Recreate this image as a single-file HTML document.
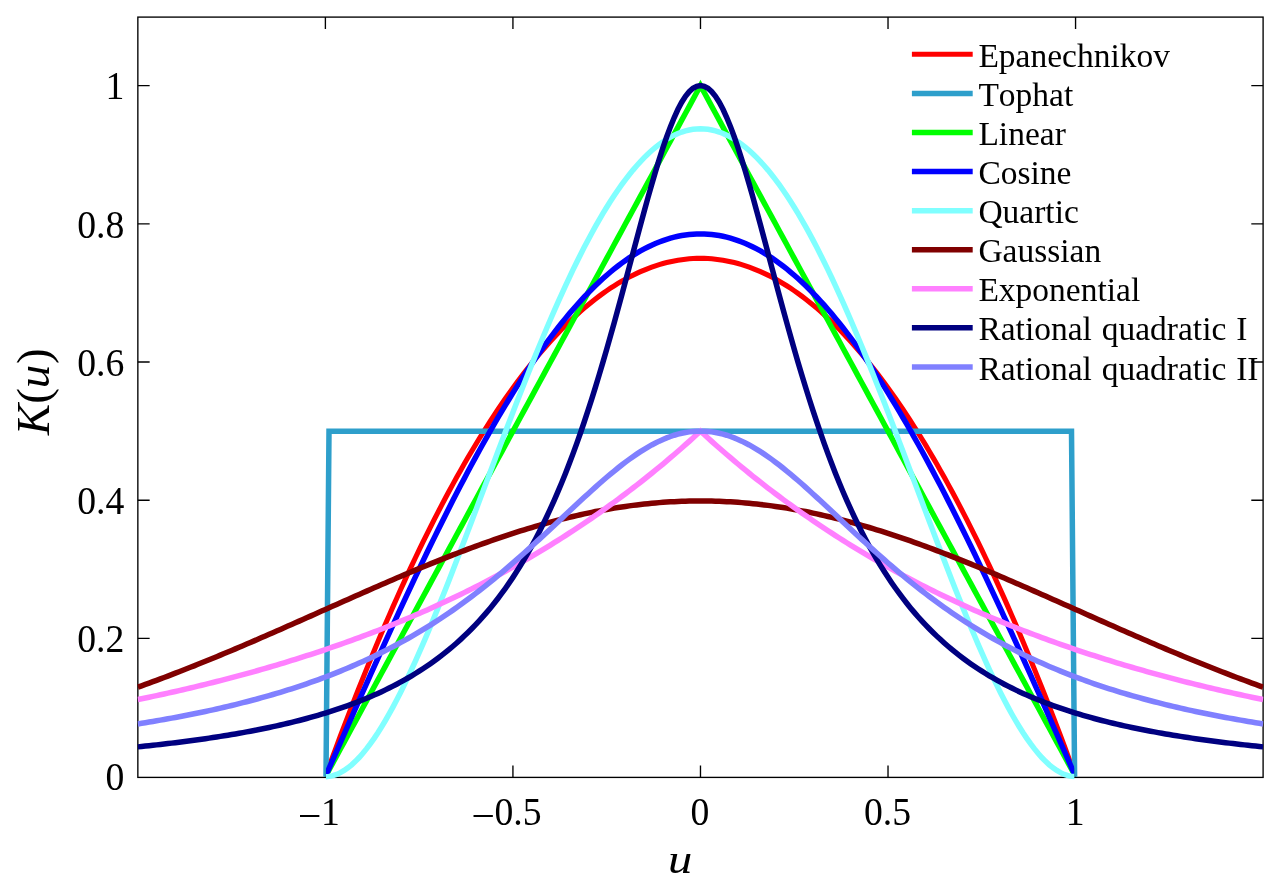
<!DOCTYPE html><html><head><meta charset="utf-8"><title>Kernel functions</title>
<style>html,body{margin:0;padding:0;background:#fff}svg{display:block}text{font-kerning:none;font-family:"Liberation Serif","Times New Roman",serif;fill:#000}</style></head><body>
<svg width="1280" height="889" viewBox="0 0 1280 889">
<rect width="1280" height="889" fill="#fff"/>
<g stroke="#000" stroke-width="1.35" fill="none">
<rect x="137.85" y="17.1" width="1125.25" height="760.3"/>
<path d="M325.39 777.4 V765.6 M325.39 17.1 V28.900000000000002 M512.93 777.4 V765.6 M512.93 17.1 V28.900000000000002 M700.48 777.4 V765.6 M700.48 17.1 V28.900000000000002 M888.02 777.4 V765.6 M888.02 17.1 V28.900000000000002 M1075.56 777.4 V765.6 M1075.56 17.1 V28.900000000000002 M137.85 638.44 H149.65 M1263.1 638.44 H1251.3 M137.85 500.23 H149.65 M1263.1 500.23 H1251.3 M137.85 362.02 H149.65 M1263.1 362.02 H1251.3 M137.85 223.81 H149.65 M1263.1 223.81 H1251.3 M137.85 85.60 H149.65 M1263.1 85.60 H1251.3 "/>
</g>
<clipPath id="c"><rect x="137.45" y="17.1" width="1126.05" height="764.3"/></clipPath>
<clipPath id="k"><rect x="325.9" y="0" width="748.4" height="800"/></clipPath>
<g clip-path="url(#c)" fill="none" stroke-linejoin="miter" stroke-linecap="butt" stroke-width="5.5">
<path d="M325.39 776.65 L329.14 766.34 L332.89 756.13 L336.64 746.02 L340.39 736.02 L344.15 726.12 L347.90 716.32 L351.65 706.63 L355.40 697.04 L359.15 687.56 L362.90 678.18 L366.65 668.90 L370.40 659.73 L374.15 650.66 L377.90 641.69 L381.65 632.83 L385.40 624.07 L389.16 615.41 L392.91 606.86 L396.66 598.41 L400.41 590.07 L404.16 581.83 L407.91 573.69 L411.66 565.66 L415.41 557.73 L419.16 549.90 L422.91 542.18 L426.66 534.56 L430.41 527.04 L434.17 519.63 L437.92 512.33 L441.67 505.12 L445.42 498.02 L449.17 491.02 L452.92 484.13 L456.67 477.34 L460.42 470.66 L464.17 464.07 L467.92 457.59 L471.67 451.22 L475.42 444.95 L479.18 438.78 L482.93 432.72 L486.68 426.76 L490.43 420.90 L494.18 415.15 L497.93 409.50 L501.68 403.95 L505.43 398.51 L509.18 393.17 L512.93 387.94 L516.68 382.81 L520.44 377.78 L524.19 372.85 L527.94 368.03 L531.69 363.32 L535.44 358.71 L539.19 354.20 L542.94 349.79 L546.69 345.49 L550.44 341.29 L554.19 337.20 L557.94 333.21 L561.69 329.32 L565.45 325.54 L569.20 321.86 L572.95 318.28 L576.70 314.81 L580.45 311.44 L584.20 308.17 L587.95 305.01 L591.70 301.95 L595.45 299.00 L599.20 296.15 L602.95 293.40 L606.70 290.76 L610.45 288.22 L614.21 285.78 L617.96 283.45 L621.71 281.22 L625.46 279.10 L629.21 277.08 L632.96 275.16 L636.71 273.34 L640.46 271.63 L644.21 270.03 L647.96 268.52 L651.71 267.12 L655.47 265.83 L659.22 264.64 L662.97 263.55 L666.72 262.56 L670.47 261.68 L674.22 260.91 L677.97 260.23 L681.72 259.66 L685.47 259.20 L689.22 258.83 L692.97 258.57 L696.72 258.42 L700.48 258.37 L704.23 258.42 L707.98 258.57 L711.73 258.83 L715.48 259.20 L719.23 259.66 L722.98 260.23 L726.73 260.91 L730.48 261.68 L734.23 262.56 L737.98 263.55 L741.73 264.64 L745.49 265.83 L749.24 267.12 L752.99 268.52 L756.74 270.03 L760.49 271.63 L764.24 273.34 L767.99 275.16 L771.74 277.08 L775.49 279.10 L779.24 281.22 L782.99 283.45 L786.74 285.78 L790.50 288.22 L794.25 290.76 L798.00 293.40 L801.75 296.15 L805.50 299.00 L809.25 301.95 L813.00 305.01 L816.75 308.17 L820.50 311.44 L824.25 314.81 L828.00 318.28 L831.75 321.86 L835.50 325.54 L839.26 329.32 L843.01 333.21 L846.76 337.20 L850.51 341.29 L854.26 345.49 L858.01 349.79 L861.76 354.20 L865.51 358.71 L869.26 363.32 L873.01 368.03 L876.76 372.85 L880.52 377.78 L884.27 382.81 L888.02 387.94 L891.77 393.17 L895.52 398.51 L899.27 403.95 L903.02 409.50 L906.77 415.15 L910.52 420.90 L914.27 426.76 L918.02 432.72 L921.77 438.78 L925.53 444.95 L929.28 451.22 L933.03 457.59 L936.78 464.07 L940.53 470.66 L944.28 477.34 L948.03 484.13 L951.78 491.02 L955.53 498.02 L959.28 505.12 L963.03 512.33 L966.78 519.63 L970.54 527.04 L974.29 534.56 L978.04 542.18 L981.79 549.90 L985.54 557.73 L989.29 565.66 L993.04 573.69 L996.79 581.83 L1000.54 590.07 L1004.29 598.41 L1008.04 606.86 L1011.79 615.41 L1015.54 624.07 L1019.30 632.83 L1023.05 641.69 L1026.80 650.66 L1030.55 659.73 L1034.30 668.90 L1038.05 678.18 L1041.80 687.56 L1045.55 697.04 L1049.30 706.63 L1053.05 716.32 L1056.80 726.12 L1060.55 736.02 L1064.31 746.02 L1068.06 756.13 L1071.81 766.34 L1075.56 776.65" stroke="#ff0000" clip-path="url(#k)" stroke-width="5.1"/>
<path d="M326 776.65 L329 431.13 L1071.5 431.13 L1074.6 776.65" stroke="#2e9fcb"/>
<path d="M325.39 776.65 L329.14 769.74 L332.89 762.83 L336.64 755.92 L340.39 749.01 L344.15 742.10 L347.90 735.19 L351.65 728.28 L355.40 721.37 L359.15 714.46 L362.90 707.55 L366.65 700.63 L370.40 693.72 L374.15 686.81 L377.90 679.90 L381.65 672.99 L385.40 666.08 L389.16 659.17 L392.91 652.26 L396.66 645.35 L400.41 638.44 L404.16 631.53 L407.91 624.62 L411.66 617.71 L415.41 610.80 L419.16 603.89 L422.91 596.98 L426.66 590.07 L430.41 583.16 L434.17 576.25 L437.92 569.34 L441.67 562.43 L445.42 555.52 L449.17 548.61 L452.92 541.69 L456.67 534.78 L460.42 527.87 L464.17 520.96 L467.92 514.05 L471.67 507.14 L475.42 500.23 L479.18 493.32 L482.93 486.41 L486.68 479.50 L490.43 472.59 L494.18 465.68 L497.93 458.77 L501.68 451.86 L505.43 444.95 L509.18 438.04 L512.93 431.13 L516.68 424.22 L520.44 417.31 L524.19 410.40 L527.94 403.49 L531.69 396.57 L535.44 389.66 L539.19 382.75 L542.94 375.84 L546.69 368.93 L550.44 362.02 L554.19 355.11 L557.94 348.20 L561.69 341.29 L565.45 334.38 L569.20 327.47 L572.95 320.56 L576.70 313.65 L580.45 306.74 L584.20 299.83 L587.95 292.92 L591.70 286.01 L595.45 279.10 L599.20 272.19 L602.95 265.28 L606.70 258.37 L610.45 251.46 L614.21 244.55 L617.96 237.63 L621.71 230.72 L625.46 223.81 L629.21 216.90 L632.96 209.99 L636.71 203.08 L640.46 196.17 L644.21 189.26 L647.96 182.35 L651.71 175.44 L655.47 168.53 L659.22 161.62 L662.97 154.71 L666.72 147.80 L670.47 140.89 L674.22 133.98 L677.97 127.07 L681.72 120.16 L685.47 113.25 L689.22 106.34 L692.97 99.43 L696.72 92.52 L700.48 85.60 L704.23 92.52 L707.98 99.43 L711.73 106.34 L715.48 113.25 L719.23 120.16 L722.98 127.07 L726.73 133.98 L730.48 140.89 L734.23 147.80 L737.98 154.71 L741.73 161.62 L745.49 168.53 L749.24 175.44 L752.99 182.35 L756.74 189.26 L760.49 196.17 L764.24 203.08 L767.99 209.99 L771.74 216.90 L775.49 223.81 L779.24 230.72 L782.99 237.63 L786.74 244.55 L790.50 251.46 L794.25 258.37 L798.00 265.28 L801.75 272.19 L805.50 279.10 L809.25 286.01 L813.00 292.92 L816.75 299.83 L820.50 306.74 L824.25 313.65 L828.00 320.56 L831.75 327.47 L835.50 334.38 L839.26 341.29 L843.01 348.20 L846.76 355.11 L850.51 362.02 L854.26 368.93 L858.01 375.84 L861.76 382.75 L865.51 389.66 L869.26 396.57 L873.01 403.49 L876.76 410.40 L880.52 417.31 L884.27 424.22 L888.02 431.13 L891.77 438.04 L895.52 444.95 L899.27 451.86 L903.02 458.77 L906.77 465.68 L910.52 472.59 L914.27 479.50 L918.02 486.41 L921.77 493.32 L925.53 500.23 L929.28 507.14 L933.03 514.05 L936.78 520.96 L940.53 527.87 L944.28 534.78 L948.03 541.69 L951.78 548.61 L955.53 555.52 L959.28 562.43 L963.03 569.34 L966.78 576.25 L970.54 583.16 L974.29 590.07 L978.04 596.98 L981.79 603.89 L985.54 610.80 L989.29 617.71 L993.04 624.62 L996.79 631.53 L1000.54 638.44 L1004.29 645.35 L1008.04 652.26 L1011.79 659.17 L1015.54 666.08 L1019.30 672.99 L1023.05 679.90 L1026.80 686.81 L1030.55 693.72 L1034.30 700.64 L1038.05 707.55 L1041.80 714.46 L1045.55 721.37 L1049.30 728.28 L1053.05 735.19 L1056.80 742.10 L1060.55 749.01 L1064.31 755.92 L1068.06 762.83 L1071.81 769.74 L1075.56 776.65" stroke="#00ff00" clip-path="url(#k)"/>
<path d="M325.39 776.65 L329.14 768.12 L332.89 759.60 L336.64 751.08 L340.39 742.57 L344.15 734.07 L347.90 725.57 L351.65 717.09 L355.40 708.63 L359.15 700.18 L362.90 691.75 L366.65 683.34 L370.40 674.95 L374.15 666.59 L377.90 658.25 L381.65 649.95 L385.40 641.67 L389.16 633.43 L392.91 625.23 L396.66 617.06 L400.41 608.93 L404.16 600.85 L407.91 592.80 L411.66 584.80 L415.41 576.85 L419.16 568.95 L422.91 561.10 L426.66 553.30 L430.41 545.56 L434.17 537.87 L437.92 530.25 L441.67 522.68 L445.42 515.18 L449.17 507.74 L452.92 500.37 L456.67 493.07 L460.42 485.83 L464.17 478.67 L467.92 471.58 L471.67 464.57 L475.42 457.63 L479.18 450.77 L482.93 444.00 L486.68 437.30 L490.43 430.69 L494.18 424.16 L497.93 417.73 L501.68 411.38 L505.43 405.11 L509.18 398.95 L512.93 392.87 L516.68 386.89 L520.44 381.01 L524.19 375.22 L527.94 369.53 L531.69 363.94 L535.44 358.46 L539.19 353.07 L542.94 347.80 L546.69 342.62 L550.44 337.56 L554.19 332.60 L557.94 327.76 L561.69 323.02 L565.45 318.39 L569.20 313.88 L572.95 309.49 L576.70 305.20 L580.45 301.04 L584.20 296.99 L587.95 293.06 L591.70 289.25 L595.45 285.56 L599.20 281.99 L602.95 278.54 L606.70 275.22 L610.45 272.02 L614.21 268.94 L617.96 265.99 L621.71 263.17 L625.46 260.47 L629.21 257.90 L632.96 255.45 L636.71 253.14 L640.46 250.96 L644.21 248.90 L647.96 246.98 L651.71 245.18 L655.47 243.52 L659.22 241.99 L662.97 240.59 L666.72 239.32 L670.47 238.18 L674.22 237.18 L677.97 236.31 L681.72 235.58 L685.47 234.98 L689.22 234.51 L692.97 234.17 L696.72 233.97 L700.48 233.90 L704.23 233.97 L707.98 234.17 L711.73 234.51 L715.48 234.98 L719.23 235.58 L722.98 236.31 L726.73 237.18 L730.48 238.18 L734.23 239.32 L737.98 240.59 L741.73 241.99 L745.49 243.52 L749.24 245.18 L752.99 246.98 L756.74 248.90 L760.49 250.96 L764.24 253.14 L767.99 255.45 L771.74 257.90 L775.49 260.47 L779.24 263.17 L782.99 265.99 L786.74 268.94 L790.50 272.02 L794.25 275.22 L798.00 278.54 L801.75 281.99 L805.50 285.56 L809.25 289.25 L813.00 293.06 L816.75 296.99 L820.50 301.04 L824.25 305.20 L828.00 309.49 L831.75 313.88 L835.50 318.39 L839.26 323.02 L843.01 327.76 L846.76 332.60 L850.51 337.56 L854.26 342.62 L858.01 347.80 L861.76 353.07 L865.51 358.46 L869.26 363.94 L873.01 369.53 L876.76 375.22 L880.52 381.01 L884.27 386.89 L888.02 392.87 L891.77 398.95 L895.52 405.11 L899.27 411.38 L903.02 417.73 L906.77 424.16 L910.52 430.69 L914.27 437.30 L918.02 444.00 L921.77 450.77 L925.53 457.63 L929.28 464.57 L933.03 471.58 L936.78 478.67 L940.53 485.83 L944.28 493.07 L948.03 500.37 L951.78 507.74 L955.53 515.18 L959.28 522.68 L963.03 530.25 L966.78 537.87 L970.54 545.56 L974.29 553.30 L978.04 561.10 L981.79 568.95 L985.54 576.85 L989.29 584.80 L993.04 592.80 L996.79 600.85 L1000.54 608.93 L1004.29 617.06 L1008.04 625.23 L1011.79 633.43 L1015.54 641.67 L1019.30 649.95 L1023.05 658.25 L1026.80 666.59 L1030.55 674.95 L1034.30 683.34 L1038.05 691.75 L1041.80 700.18 L1045.55 708.63 L1049.30 717.09 L1053.05 725.57 L1056.80 734.07 L1060.55 742.57 L1064.31 751.08 L1068.06 759.60 L1071.81 768.12 L1075.56 776.65" stroke="#0000ff" clip-path="url(#k)"/>
<path d="M325.39 776.65 L329.14 776.39 L332.89 775.63 L336.64 774.39 L340.39 772.67 L344.15 770.49 L347.90 767.87 L351.65 764.83 L355.40 761.37 L359.15 757.51 L362.90 753.26 L366.65 748.65 L370.40 743.68 L374.15 738.36 L377.90 732.72 L381.65 726.76 L385.40 720.50 L389.16 713.95 L392.91 707.12 L396.66 700.03 L400.41 692.69 L404.16 685.11 L407.91 677.30 L411.66 669.28 L415.41 661.06 L419.16 652.65 L422.91 644.06 L426.66 635.30 L430.41 626.39 L434.17 617.33 L437.92 608.14 L441.67 598.83 L445.42 589.41 L449.17 579.89 L452.92 570.28 L456.67 560.59 L460.42 550.83 L464.17 541.01 L467.92 531.14 L471.67 521.23 L475.42 511.29 L479.18 501.33 L482.93 491.36 L486.68 481.38 L490.43 471.42 L494.18 461.46 L497.93 451.54 L501.68 441.64 L505.43 431.79 L509.18 421.98 L512.93 412.23 L516.68 402.55 L520.44 392.94 L524.19 383.40 L527.94 373.96 L531.69 364.61 L535.44 355.36 L539.19 346.22 L542.94 337.20 L546.69 328.30 L550.44 319.52 L554.19 310.88 L557.94 302.39 L561.69 294.04 L565.45 285.84 L569.20 277.80 L572.95 269.92 L576.70 262.21 L580.45 254.68 L584.20 247.33 L587.95 240.16 L591.70 233.18 L595.45 226.40 L599.20 219.81 L602.95 213.42 L606.70 207.25 L610.45 201.28 L614.21 195.52 L617.96 189.99 L621.71 184.68 L625.46 179.59 L629.21 174.73 L632.96 170.10 L636.71 165.70 L640.46 161.54 L644.21 157.62 L647.96 153.94 L651.71 150.51 L655.47 147.32 L659.22 144.38 L662.97 141.69 L666.72 139.25 L670.47 137.06 L674.22 135.13 L677.97 133.45 L681.72 132.03 L685.47 130.87 L689.22 129.96 L692.97 129.31 L696.72 128.92 L700.48 128.79 L704.23 128.92 L707.98 129.31 L711.73 129.96 L715.48 130.87 L719.23 132.03 L722.98 133.45 L726.73 135.13 L730.48 137.06 L734.23 139.25 L737.98 141.69 L741.73 144.38 L745.49 147.32 L749.24 150.51 L752.99 153.94 L756.74 157.62 L760.49 161.54 L764.24 165.70 L767.99 170.10 L771.74 174.73 L775.49 179.59 L779.24 184.68 L782.99 189.99 L786.74 195.52 L790.50 201.28 L794.25 207.25 L798.00 213.42 L801.75 219.81 L805.50 226.40 L809.25 233.18 L813.00 240.16 L816.75 247.33 L820.50 254.68 L824.25 262.21 L828.00 269.92 L831.75 277.80 L835.50 285.84 L839.26 294.04 L843.01 302.39 L846.76 310.88 L850.51 319.52 L854.26 328.30 L858.01 337.20 L861.76 346.22 L865.51 355.36 L869.26 364.61 L873.01 373.96 L876.76 383.40 L880.52 392.94 L884.27 402.55 L888.02 412.23 L891.77 421.98 L895.52 431.79 L899.27 441.64 L903.02 451.54 L906.77 461.46 L910.52 471.42 L914.27 481.38 L918.02 491.36 L921.77 501.33 L925.53 511.29 L929.28 521.23 L933.03 531.14 L936.78 541.01 L940.53 550.83 L944.28 560.59 L948.03 570.28 L951.78 579.89 L955.53 589.41 L959.28 598.83 L963.03 608.14 L966.78 617.33 L970.54 626.39 L974.29 635.30 L978.04 644.06 L981.79 652.65 L985.54 661.06 L989.29 669.28 L993.04 677.30 L996.79 685.11 L1000.54 692.69 L1004.29 700.03 L1008.04 707.12 L1011.79 713.95 L1015.54 720.50 L1019.30 726.76 L1023.05 732.72 L1026.80 738.36 L1030.55 743.68 L1034.30 748.65 L1038.05 753.26 L1041.80 757.51 L1045.55 761.37 L1049.30 764.83 L1053.05 767.87 L1056.80 770.49 L1060.55 772.67 L1064.31 774.39 L1068.06 775.63 L1071.81 776.39 L1075.56 776.65" stroke="#80ffff" clip-path="url(#k)"/>
<path d="M137.85 687.15 L141.60 685.80 L145.35 684.44 L149.10 683.07 L152.85 681.69 L156.60 680.30 L160.36 678.89 L164.11 677.48 L167.86 676.06 L171.61 674.63 L175.36 673.18 L179.11 671.73 L182.86 670.26 L186.61 668.79 L190.36 667.31 L194.11 665.82 L197.86 664.32 L201.61 662.81 L205.36 661.29 L209.12 659.76 L212.87 658.23 L216.62 656.68 L220.37 655.13 L224.12 653.57 L227.87 652.01 L231.62 650.43 L235.37 648.85 L239.12 647.26 L242.87 645.67 L246.62 644.07 L250.38 642.46 L254.13 640.85 L257.88 639.23 L261.63 637.60 L265.38 635.97 L269.13 634.34 L272.88 632.70 L276.63 631.06 L280.38 629.41 L284.13 627.76 L287.88 626.10 L291.63 624.45 L295.38 622.79 L299.14 621.12 L302.89 619.46 L306.64 617.79 L310.39 616.12 L314.14 614.45 L317.89 612.78 L321.64 611.11 L325.39 609.44 L329.14 607.77 L332.89 606.09 L336.64 604.42 L340.39 602.75 L344.15 601.08 L347.90 599.42 L351.65 597.75 L355.40 596.09 L359.15 594.43 L362.90 592.77 L366.65 591.12 L370.40 589.47 L374.15 587.83 L377.90 586.19 L381.65 584.55 L385.40 582.92 L389.16 581.30 L392.91 579.68 L396.66 578.07 L400.41 576.46 L404.16 574.86 L407.91 573.27 L411.66 571.69 L415.41 570.12 L419.16 568.55 L422.91 566.99 L426.66 565.45 L430.41 563.91 L434.17 562.38 L437.92 560.87 L441.67 559.36 L445.42 557.87 L449.17 556.39 L452.92 554.92 L456.67 553.46 L460.42 552.02 L464.17 550.59 L467.92 549.17 L471.67 547.77 L475.42 546.38 L479.18 545.00 L482.93 543.64 L486.68 542.30 L490.43 540.97 L494.18 539.66 L497.93 538.37 L501.68 537.09 L505.43 535.83 L509.18 534.58 L512.93 533.36 L516.68 532.15 L520.44 530.96 L524.19 529.79 L527.94 528.64 L531.69 527.51 L535.44 526.40 L539.19 525.31 L542.94 524.24 L546.69 523.19 L550.44 522.16 L554.19 521.15 L557.94 520.17 L561.69 519.20 L565.45 518.26 L569.20 517.34 L572.95 516.45 L576.70 515.57 L580.45 514.72 L584.20 513.90 L587.95 513.09 L591.70 512.32 L595.45 511.56 L599.20 510.83 L602.95 510.13 L606.70 509.44 L610.45 508.79 L614.21 508.16 L617.96 507.55 L621.71 506.98 L625.46 506.42 L629.21 505.89 L632.96 505.39 L636.71 504.92 L640.46 504.47 L644.21 504.05 L647.96 503.65 L651.71 503.28 L655.47 502.94 L659.22 502.63 L662.97 502.34 L666.72 502.08 L670.47 501.84 L674.22 501.64 L677.97 501.46 L681.72 501.31 L685.47 501.18 L689.22 501.09 L692.97 501.02 L696.72 500.98 L700.48 500.96 L704.23 500.98 L707.98 501.02 L711.73 501.09 L715.48 501.18 L719.23 501.31 L722.98 501.46 L726.73 501.64 L730.48 501.84 L734.23 502.08 L737.98 502.34 L741.73 502.63 L745.49 502.94 L749.24 503.28 L752.99 503.65 L756.74 504.05 L760.49 504.47 L764.24 504.92 L767.99 505.39 L771.74 505.89 L775.49 506.42 L779.24 506.98 L782.99 507.55 L786.74 508.16 L790.50 508.79 L794.25 509.44 L798.00 510.13 L801.75 510.83 L805.50 511.56 L809.25 512.32 L813.00 513.09 L816.75 513.90 L820.50 514.72 L824.25 515.57 L828.00 516.45 L831.75 517.34 L835.50 518.26 L839.26 519.20 L843.01 520.17 L846.76 521.15 L850.51 522.16 L854.26 523.19 L858.01 524.24 L861.76 525.31 L865.51 526.40 L869.26 527.51 L873.01 528.64 L876.76 529.79 L880.52 530.96 L884.27 532.15 L888.02 533.36 L891.77 534.58 L895.52 535.83 L899.27 537.09 L903.02 538.37 L906.77 539.66 L910.52 540.97 L914.27 542.30 L918.02 543.64 L921.77 545.00 L925.53 546.38 L929.28 547.77 L933.03 549.17 L936.78 550.59 L940.53 552.02 L944.28 553.46 L948.03 554.92 L951.78 556.39 L955.53 557.87 L959.28 559.36 L963.03 560.87 L966.78 562.38 L970.54 563.91 L974.29 565.45 L978.04 566.99 L981.79 568.55 L985.54 570.12 L989.29 571.69 L993.04 573.27 L996.79 574.86 L1000.54 576.46 L1004.29 578.07 L1008.04 579.68 L1011.79 581.30 L1015.54 582.92 L1019.30 584.55 L1023.05 586.19 L1026.80 587.83 L1030.55 589.47 L1034.30 591.12 L1038.05 592.77 L1041.80 594.43 L1045.55 596.09 L1049.30 597.75 L1053.05 599.42 L1056.80 601.08 L1060.55 602.75 L1064.31 604.42 L1068.06 606.09 L1071.81 607.77 L1075.56 609.44 L1079.31 611.11 L1083.06 612.78 L1086.81 614.45 L1090.56 616.12 L1094.31 617.79 L1098.06 619.46 L1101.81 621.12 L1105.57 622.79 L1109.32 624.45 L1113.07 626.10 L1116.82 627.76 L1120.57 629.41 L1124.32 631.06 L1128.07 632.70 L1131.82 634.34 L1135.57 635.97 L1139.32 637.60 L1143.07 639.23 L1146.82 640.85 L1150.58 642.46 L1154.33 644.07 L1158.08 645.67 L1161.83 647.26 L1165.58 648.85 L1169.33 650.43 L1173.08 652.01 L1176.83 653.57 L1180.58 655.13 L1184.33 656.68 L1188.08 658.23 L1191.83 659.76 L1195.58 661.29 L1199.34 662.81 L1203.09 664.32 L1206.84 665.82 L1210.59 667.31 L1214.34 668.79 L1218.09 670.26 L1221.84 671.73 L1225.59 673.18 L1229.34 674.63 L1233.09 676.06 L1236.84 677.48 L1240.59 678.89 L1244.35 680.30 L1248.10 681.69 L1251.85 683.07 L1255.60 684.44 L1259.35 685.80 L1263.10 687.15" stroke="#800000"/>
<path d="M137.85 699.55 L141.60 698.78 L145.35 698.00 L149.10 697.21 L152.85 696.41 L156.60 695.60 L160.36 694.79 L164.11 693.96 L167.86 693.13 L171.61 692.29 L175.36 691.45 L179.11 690.59 L182.86 689.72 L186.61 688.85 L190.36 687.97 L194.11 687.08 L197.86 686.18 L201.61 685.27 L205.36 684.35 L209.12 683.42 L212.87 682.48 L216.62 681.54 L220.37 680.58 L224.12 679.62 L227.87 678.64 L231.62 677.66 L235.37 676.66 L239.12 675.66 L242.87 674.64 L246.62 673.62 L250.38 672.58 L254.13 671.53 L257.88 670.48 L261.63 669.41 L265.38 668.33 L269.13 667.24 L272.88 666.15 L276.63 665.03 L280.38 663.91 L284.13 662.78 L287.88 661.64 L291.63 660.48 L295.38 659.31 L299.14 658.13 L302.89 656.94 L306.64 655.74 L310.39 654.52 L314.14 653.30 L317.89 652.06 L321.64 650.80 L325.39 649.54 L329.14 648.26 L332.89 646.97 L336.64 645.67 L340.39 644.35 L344.15 643.02 L347.90 641.68 L351.65 640.32 L355.40 638.95 L359.15 637.57 L362.90 636.17 L366.65 634.76 L370.40 633.33 L374.15 631.89 L377.90 630.44 L381.65 628.97 L385.40 627.48 L389.16 625.99 L392.91 624.47 L396.66 622.94 L400.41 621.40 L404.16 619.84 L407.91 618.26 L411.66 616.67 L415.41 615.06 L419.16 613.44 L422.91 611.80 L426.66 610.14 L430.41 608.47 L434.17 606.78 L437.92 605.07 L441.67 603.34 L445.42 601.60 L449.17 599.84 L452.92 598.07 L456.67 596.27 L460.42 594.46 L464.17 592.63 L467.92 590.78 L471.67 588.91 L475.42 587.02 L479.18 585.12 L482.93 583.19 L486.68 581.25 L490.43 579.28 L494.18 577.30 L497.93 575.30 L501.68 573.27 L505.43 571.23 L509.18 569.17 L512.93 567.08 L516.68 564.97 L520.44 562.85 L524.19 560.70 L527.94 558.53 L531.69 556.33 L535.44 554.12 L539.19 551.88 L542.94 549.63 L546.69 547.34 L550.44 545.04 L554.19 542.71 L557.94 540.36 L561.69 537.99 L565.45 535.59 L569.20 533.16 L572.95 530.72 L576.70 528.25 L580.45 525.75 L584.20 523.23 L587.95 520.68 L591.70 518.11 L595.45 515.51 L599.20 512.89 L602.95 510.23 L606.70 507.56 L610.45 504.85 L614.21 502.12 L617.96 499.36 L621.71 496.57 L625.46 493.76 L629.21 490.92 L632.96 488.05 L636.71 485.14 L640.46 482.21 L644.21 479.26 L647.96 476.27 L651.71 473.25 L655.47 470.20 L659.22 467.12 L662.97 464.01 L666.72 460.87 L670.47 457.69 L674.22 454.49 L677.97 451.25 L681.72 447.98 L685.47 444.68 L689.22 441.34 L692.97 437.97 L696.72 434.57 L700.48 431.13 L704.23 434.57 L707.98 437.97 L711.73 441.34 L715.48 444.68 L719.23 447.98 L722.98 451.25 L726.73 454.49 L730.48 457.69 L734.23 460.87 L737.98 464.01 L741.73 467.12 L745.49 470.20 L749.24 473.25 L752.99 476.27 L756.74 479.26 L760.49 482.21 L764.24 485.14 L767.99 488.05 L771.74 490.92 L775.49 493.76 L779.24 496.57 L782.99 499.36 L786.74 502.12 L790.50 504.85 L794.25 507.56 L798.00 510.23 L801.75 512.89 L805.50 515.51 L809.25 518.11 L813.00 520.68 L816.75 523.23 L820.50 525.75 L824.25 528.25 L828.00 530.72 L831.75 533.16 L835.50 535.59 L839.26 537.99 L843.01 540.36 L846.76 542.71 L850.51 545.04 L854.26 547.34 L858.01 549.63 L861.76 551.88 L865.51 554.12 L869.26 556.33 L873.01 558.53 L876.76 560.70 L880.52 562.85 L884.27 564.97 L888.02 567.08 L891.77 569.17 L895.52 571.23 L899.27 573.27 L903.02 575.30 L906.77 577.30 L910.52 579.28 L914.27 581.25 L918.02 583.19 L921.77 585.12 L925.53 587.02 L929.28 588.91 L933.03 590.78 L936.78 592.63 L940.53 594.46 L944.28 596.27 L948.03 598.07 L951.78 599.84 L955.53 601.60 L959.28 603.34 L963.03 605.07 L966.78 606.78 L970.54 608.47 L974.29 610.14 L978.04 611.80 L981.79 613.44 L985.54 615.06 L989.29 616.67 L993.04 618.26 L996.79 619.84 L1000.54 621.40 L1004.29 622.94 L1008.04 624.47 L1011.79 625.99 L1015.54 627.48 L1019.30 628.97 L1023.05 630.44 L1026.80 631.89 L1030.55 633.33 L1034.30 634.76 L1038.05 636.17 L1041.80 637.57 L1045.55 638.95 L1049.30 640.32 L1053.05 641.68 L1056.80 643.02 L1060.55 644.35 L1064.31 645.67 L1068.06 646.97 L1071.81 648.26 L1075.56 649.54 L1079.31 650.80 L1083.06 652.06 L1086.81 653.30 L1090.56 654.52 L1094.31 655.74 L1098.06 656.94 L1101.81 658.13 L1105.57 659.31 L1109.32 660.48 L1113.07 661.64 L1116.82 662.78 L1120.57 663.91 L1124.32 665.03 L1128.07 666.15 L1131.82 667.24 L1135.57 668.33 L1139.32 669.41 L1143.07 670.48 L1146.82 671.53 L1150.58 672.58 L1154.33 673.62 L1158.08 674.64 L1161.83 675.66 L1165.58 676.66 L1169.33 677.66 L1173.08 678.64 L1176.83 679.62 L1180.58 680.58 L1184.33 681.54 L1188.08 682.48 L1191.83 683.42 L1195.58 684.35 L1199.34 685.27 L1203.09 686.18 L1206.84 687.08 L1210.59 687.97 L1214.34 688.85 L1218.09 689.72 L1221.84 690.59 L1225.59 691.45 L1229.34 692.29 L1233.09 693.13 L1236.84 693.96 L1240.59 694.79 L1244.35 695.60 L1248.10 696.41 L1251.85 697.21 L1255.60 698.00 L1259.35 698.78 L1263.10 699.55" stroke="#ff80ff"/>
<path d="M137.85 746.87 L141.60 746.49 L145.35 746.10 L149.10 745.70 L152.85 745.29 L156.60 744.88 L160.36 744.46 L164.11 744.03 L167.86 743.59 L171.61 743.14 L175.36 742.68 L179.11 742.22 L182.86 741.74 L186.61 741.26 L190.36 740.76 L194.11 740.25 L197.86 739.74 L201.61 739.21 L205.36 738.67 L209.12 738.12 L212.87 737.56 L216.62 736.99 L220.37 736.40 L224.12 735.80 L227.87 735.19 L231.62 734.57 L235.37 733.93 L239.12 733.27 L242.87 732.61 L246.62 731.92 L250.38 731.22 L254.13 730.51 L257.88 729.78 L261.63 729.03 L265.38 728.26 L269.13 727.47 L272.88 726.67 L276.63 725.85 L280.38 725.00 L284.13 724.14 L287.88 723.26 L291.63 722.35 L295.38 721.42 L299.14 720.47 L302.89 719.49 L306.64 718.49 L310.39 717.46 L314.14 716.41 L317.89 715.32 L321.64 714.21 L325.39 713.07 L329.14 711.90 L332.89 710.70 L336.64 709.47 L340.39 708.20 L344.15 706.90 L347.90 705.56 L351.65 704.18 L355.40 702.77 L359.15 701.32 L362.90 699.82 L366.65 698.28 L370.40 696.70 L374.15 695.07 L377.90 693.39 L381.65 691.66 L385.40 689.88 L389.16 688.05 L392.91 686.16 L396.66 684.21 L400.41 682.20 L404.16 680.13 L407.91 677.99 L411.66 675.79 L415.41 673.52 L419.16 671.17 L422.91 668.75 L426.66 666.25 L430.41 663.67 L434.17 661.00 L437.92 658.24 L441.67 655.39 L445.42 652.44 L449.17 649.40 L452.92 646.24 L456.67 642.98 L460.42 639.61 L464.17 636.11 L467.92 632.50 L471.67 628.75 L475.42 624.87 L479.18 620.86 L482.93 616.69 L486.68 612.37 L490.43 607.90 L494.18 603.26 L497.93 598.45 L501.68 593.46 L505.43 588.29 L509.18 582.92 L512.93 577.35 L516.68 571.57 L520.44 565.58 L524.19 559.35 L527.94 552.90 L531.69 546.19 L535.44 539.24 L539.19 532.02 L542.94 524.54 L546.69 516.77 L550.44 508.71 L554.19 500.36 L557.94 491.70 L561.69 482.73 L565.45 473.44 L569.20 463.82 L572.95 453.87 L576.70 443.58 L580.45 432.96 L584.20 421.99 L587.95 410.68 L591.70 399.04 L595.45 387.06 L599.20 374.76 L602.95 362.15 L606.70 349.25 L610.45 336.07 L614.21 322.64 L617.96 309.00 L621.71 295.17 L625.46 281.20 L629.21 267.14 L632.96 253.04 L636.71 238.97 L640.46 224.99 L644.21 211.18 L647.96 197.62 L651.71 184.39 L655.47 171.60 L659.22 159.33 L662.97 147.68 L666.72 136.76 L670.47 126.66 L674.22 117.48 L677.97 109.32 L681.72 102.24 L685.47 96.35 L689.22 91.69 L692.97 88.32 L696.72 86.29 L700.48 85.60 L704.23 86.29 L707.98 88.32 L711.73 91.69 L715.48 96.35 L719.23 102.24 L722.98 109.32 L726.73 117.48 L730.48 126.66 L734.23 136.76 L737.98 147.68 L741.73 159.33 L745.49 171.60 L749.24 184.39 L752.99 197.62 L756.74 211.18 L760.49 224.99 L764.24 238.97 L767.99 253.04 L771.74 267.14 L775.49 281.20 L779.24 295.17 L782.99 309.00 L786.74 322.64 L790.50 336.07 L794.25 349.25 L798.00 362.15 L801.75 374.76 L805.50 387.06 L809.25 399.04 L813.00 410.68 L816.75 421.99 L820.50 432.96 L824.25 443.58 L828.00 453.87 L831.75 463.82 L835.50 473.44 L839.26 482.73 L843.01 491.70 L846.76 500.36 L850.51 508.71 L854.26 516.77 L858.01 524.54 L861.76 532.02 L865.51 539.24 L869.26 546.19 L873.01 552.90 L876.76 559.35 L880.52 565.58 L884.27 571.57 L888.02 577.35 L891.77 582.92 L895.52 588.29 L899.27 593.46 L903.02 598.45 L906.77 603.26 L910.52 607.90 L914.27 612.37 L918.02 616.69 L921.77 620.86 L925.53 624.87 L929.28 628.75 L933.03 632.50 L936.78 636.11 L940.53 639.61 L944.28 642.98 L948.03 646.24 L951.78 649.40 L955.53 652.44 L959.28 655.39 L963.03 658.24 L966.78 661.00 L970.54 663.67 L974.29 666.25 L978.04 668.75 L981.79 671.17 L985.54 673.52 L989.29 675.79 L993.04 677.99 L996.79 680.13 L1000.54 682.20 L1004.29 684.21 L1008.04 686.16 L1011.79 688.05 L1015.54 689.88 L1019.30 691.66 L1023.05 693.39 L1026.80 695.07 L1030.55 696.70 L1034.30 698.28 L1038.05 699.82 L1041.80 701.32 L1045.55 702.77 L1049.30 704.18 L1053.05 705.56 L1056.80 706.90 L1060.55 708.20 L1064.31 709.47 L1068.06 710.70 L1071.81 711.90 L1075.56 713.07 L1079.31 714.21 L1083.06 715.32 L1086.81 716.41 L1090.56 717.46 L1094.31 718.49 L1098.06 719.49 L1101.81 720.47 L1105.57 721.42 L1109.32 722.35 L1113.07 723.26 L1116.82 724.14 L1120.57 725.00 L1124.32 725.85 L1128.07 726.67 L1131.82 727.47 L1135.57 728.26 L1139.32 729.03 L1143.07 729.78 L1146.82 730.51 L1150.58 731.22 L1154.33 731.92 L1158.08 732.61 L1161.83 733.27 L1165.58 733.93 L1169.33 734.57 L1173.08 735.19 L1176.83 735.80 L1180.58 736.40 L1184.33 736.99 L1188.08 737.56 L1191.83 738.12 L1195.58 738.67 L1199.34 739.21 L1203.09 739.74 L1206.84 740.25 L1210.59 740.76 L1214.34 741.26 L1218.09 741.74 L1221.84 742.22 L1225.59 742.68 L1229.34 743.14 L1233.09 743.59 L1236.84 744.03 L1240.59 744.46 L1244.35 744.88 L1248.10 745.29 L1251.85 745.70 L1255.60 746.10 L1259.35 746.49 L1263.10 746.87" stroke="#000080"/>
<path d="M137.85 723.91 L141.60 723.31 L145.35 722.70 L149.10 722.08 L152.85 721.45 L156.60 720.81 L160.36 720.16 L164.11 719.50 L167.86 718.82 L171.61 718.14 L175.36 717.45 L179.11 716.74 L182.86 716.02 L186.61 715.29 L190.36 714.55 L194.11 713.79 L197.86 713.02 L201.61 712.24 L205.36 711.45 L209.12 710.64 L212.87 709.82 L216.62 708.98 L220.37 708.13 L224.12 707.26 L227.87 706.38 L231.62 705.49 L235.37 704.57 L239.12 703.65 L242.87 702.70 L246.62 701.74 L250.38 700.76 L254.13 699.77 L257.88 698.75 L261.63 697.72 L265.38 696.67 L269.13 695.60 L272.88 694.51 L276.63 693.40 L280.38 692.28 L284.13 691.13 L287.88 689.96 L291.63 688.76 L295.38 687.55 L299.14 686.32 L302.89 685.06 L306.64 683.78 L310.39 682.47 L314.14 681.14 L317.89 679.79 L321.64 678.41 L325.39 677.00 L329.14 675.57 L332.89 674.11 L336.64 672.63 L340.39 671.11 L344.15 669.57 L347.90 668.00 L351.65 666.40 L355.40 664.77 L359.15 663.11 L362.90 661.42 L366.65 659.70 L370.40 657.94 L374.15 656.16 L377.90 654.34 L381.65 652.48 L385.40 650.59 L389.16 648.67 L392.91 646.71 L396.66 644.71 L400.41 642.68 L404.16 640.61 L407.91 638.51 L411.66 636.36 L415.41 634.18 L419.16 631.95 L422.91 629.69 L426.66 627.39 L430.41 625.05 L434.17 622.66 L437.92 620.24 L441.67 617.77 L445.42 615.26 L449.17 612.71 L452.92 610.12 L456.67 607.48 L460.42 604.80 L464.17 602.08 L467.92 599.32 L471.67 596.51 L475.42 593.67 L479.18 590.78 L482.93 587.84 L486.68 584.87 L490.43 581.86 L494.18 578.80 L497.93 575.71 L501.68 572.57 L505.43 569.40 L509.18 566.19 L512.93 562.95 L516.68 559.67 L520.44 556.36 L524.19 553.02 L527.94 549.65 L531.69 546.25 L535.44 542.82 L539.19 539.38 L542.94 535.91 L546.69 532.42 L550.44 528.93 L554.19 525.41 L557.94 521.89 L561.69 518.37 L565.45 514.85 L569.20 511.32 L572.95 507.81 L576.70 504.31 L580.45 500.82 L584.20 497.35 L587.95 493.91 L591.70 490.50 L595.45 487.13 L599.20 483.80 L602.95 480.52 L606.70 477.29 L610.45 474.12 L614.21 471.02 L617.96 467.99 L621.71 465.03 L625.46 462.17 L629.21 459.39 L632.96 456.70 L636.71 454.13 L640.46 451.66 L644.21 449.30 L647.96 447.07 L651.71 444.96 L655.47 442.98 L659.22 441.14 L662.97 439.45 L666.72 437.90 L670.47 436.50 L674.22 435.25 L677.97 434.17 L681.72 433.25 L685.47 432.49 L689.22 431.89 L692.97 431.47 L696.72 431.21 L700.48 431.13 L704.23 431.21 L707.98 431.47 L711.73 431.89 L715.48 432.49 L719.23 433.25 L722.98 434.17 L726.73 435.25 L730.48 436.50 L734.23 437.90 L737.98 439.45 L741.73 441.14 L745.49 442.98 L749.24 444.96 L752.99 447.07 L756.74 449.30 L760.49 451.66 L764.24 454.13 L767.99 456.70 L771.74 459.39 L775.49 462.17 L779.24 465.03 L782.99 467.99 L786.74 471.02 L790.50 474.12 L794.25 477.29 L798.00 480.52 L801.75 483.80 L805.50 487.13 L809.25 490.50 L813.00 493.91 L816.75 497.35 L820.50 500.82 L824.25 504.31 L828.00 507.81 L831.75 511.32 L835.50 514.85 L839.26 518.37 L843.01 521.89 L846.76 525.41 L850.51 528.93 L854.26 532.42 L858.01 535.91 L861.76 539.38 L865.51 542.82 L869.26 546.25 L873.01 549.65 L876.76 553.02 L880.52 556.36 L884.27 559.67 L888.02 562.95 L891.77 566.19 L895.52 569.40 L899.27 572.57 L903.02 575.71 L906.77 578.80 L910.52 581.86 L914.27 584.87 L918.02 587.84 L921.77 590.78 L925.53 593.67 L929.28 596.51 L933.03 599.32 L936.78 602.08 L940.53 604.80 L944.28 607.48 L948.03 610.12 L951.78 612.71 L955.53 615.26 L959.28 617.77 L963.03 620.24 L966.78 622.66 L970.54 625.05 L974.29 627.39 L978.04 629.69 L981.79 631.95 L985.54 634.18 L989.29 636.36 L993.04 638.51 L996.79 640.61 L1000.54 642.68 L1004.29 644.71 L1008.04 646.71 L1011.79 648.67 L1015.54 650.59 L1019.30 652.48 L1023.05 654.34 L1026.80 656.16 L1030.55 657.94 L1034.30 659.70 L1038.05 661.42 L1041.80 663.11 L1045.55 664.77 L1049.30 666.40 L1053.05 668.00 L1056.80 669.57 L1060.55 671.11 L1064.31 672.63 L1068.06 674.11 L1071.81 675.57 L1075.56 677.00 L1079.31 678.41 L1083.06 679.79 L1086.81 681.14 L1090.56 682.47 L1094.31 683.78 L1098.06 685.06 L1101.81 686.32 L1105.57 687.55 L1109.32 688.76 L1113.07 689.96 L1116.82 691.13 L1120.57 692.28 L1124.32 693.40 L1128.07 694.51 L1131.82 695.60 L1135.57 696.67 L1139.32 697.72 L1143.07 698.75 L1146.82 699.77 L1150.58 700.76 L1154.33 701.74 L1158.08 702.70 L1161.83 703.65 L1165.58 704.57 L1169.33 705.49 L1173.08 706.38 L1176.83 707.26 L1180.58 708.13 L1184.33 708.98 L1188.08 709.82 L1191.83 710.64 L1195.58 711.45 L1199.34 712.24 L1203.09 713.02 L1206.84 713.79 L1210.59 714.55 L1214.34 715.29 L1218.09 716.02 L1221.84 716.74 L1225.59 717.45 L1229.34 718.14 L1233.09 718.82 L1236.84 719.50 L1240.59 720.16 L1244.35 720.81 L1248.10 721.45 L1251.85 722.08 L1255.60 722.70 L1259.35 723.31 L1263.10 723.91" stroke="#8080ff"/>
</g>
<g font-size="39.5">
<text transform="translate(699.98,825.40) scale(0.955,1)" text-anchor="middle">0</text>
<text transform="translate(887.52,825.40) scale(0.955,1)" text-anchor="middle">0.5</text>
<text transform="translate(1075.06,825.40) scale(0.955,1)" text-anchor="middle">1</text>
<text transform="translate(300.29,825.40) scale(0.955,1)">–<tspan dx="2">1</tspan></text>
<text transform="translate(473.68,825.40) scale(0.955,1)">–<tspan dx="2">0.5</tspan></text>
<text transform="translate(124.30,790.35) scale(0.955,1)" text-anchor="end">0</text>
<text transform="translate(124.30,652.14) scale(0.955,1)" text-anchor="end">0.2</text>
<text transform="translate(124.30,513.93) scale(0.955,1)" text-anchor="end">0.4</text>
<text transform="translate(124.30,375.72) scale(0.955,1)" text-anchor="end">0.6</text>
<text transform="translate(124.30,237.51) scale(0.955,1)" text-anchor="end">0.8</text>
<text transform="translate(124.30,99.30) scale(0.955,1)" text-anchor="end">1</text>
</g>
<text transform="translate(668.1,873.3) scale(1.13,1)" font-size="43" font-style="italic">u</text>
<text transform="translate(48.8,435.2) rotate(-90)" font-size="47"><tspan font-style="italic">K</tspan>(<tspan font-style="italic">u</tspan><tspan dx="0.8">)</tspan></text>
<g stroke-width="5.5" font-size="34.6" word-spacing="1.55">
<path d="M911.9 54.35 H972.7" stroke="#ff0000" stroke-width="5"/>
<text transform="translate(978.4,66.95) scale(0.968,1)">Epanechnikov</text>
<path d="M911.9 93.42 H972.7" stroke="#2e9fcb"/>
<text transform="translate(978.4,106.02) scale(0.968,1)">Tophat</text>
<path d="M911.9 132.49 H972.7" stroke="#00ff00"/>
<text transform="translate(978.4,145.09) scale(0.968,1)">Linear</text>
<path d="M911.9 171.56 H972.7" stroke="#0000ff"/>
<text transform="translate(978.4,184.16) scale(0.968,1)">Cosine</text>
<path d="M911.9 210.63 H972.7" stroke="#80ffff"/>
<text transform="translate(978.4,223.23) scale(0.968,1)">Quartic</text>
<path d="M911.9 249.70 H972.7" stroke="#800000"/>
<text transform="translate(978.4,262.30) scale(0.968,1)">Gaussian</text>
<path d="M911.9 288.77 H972.7" stroke="#ff80ff"/>
<text transform="translate(978.4,301.37) scale(0.968,1)">Exponential</text>
<path d="M911.9 327.84 H972.7" stroke="#000080"/>
<text transform="translate(978.4,340.44) scale(0.968,1)">Rational quadratic I</text>
<path d="M911.9 366.91 H972.7" stroke="#8080ff"/>
<text transform="translate(978.4,379.51) scale(0.968,1)">Rational quadratic II</text>
</g>
</svg></body></html>
